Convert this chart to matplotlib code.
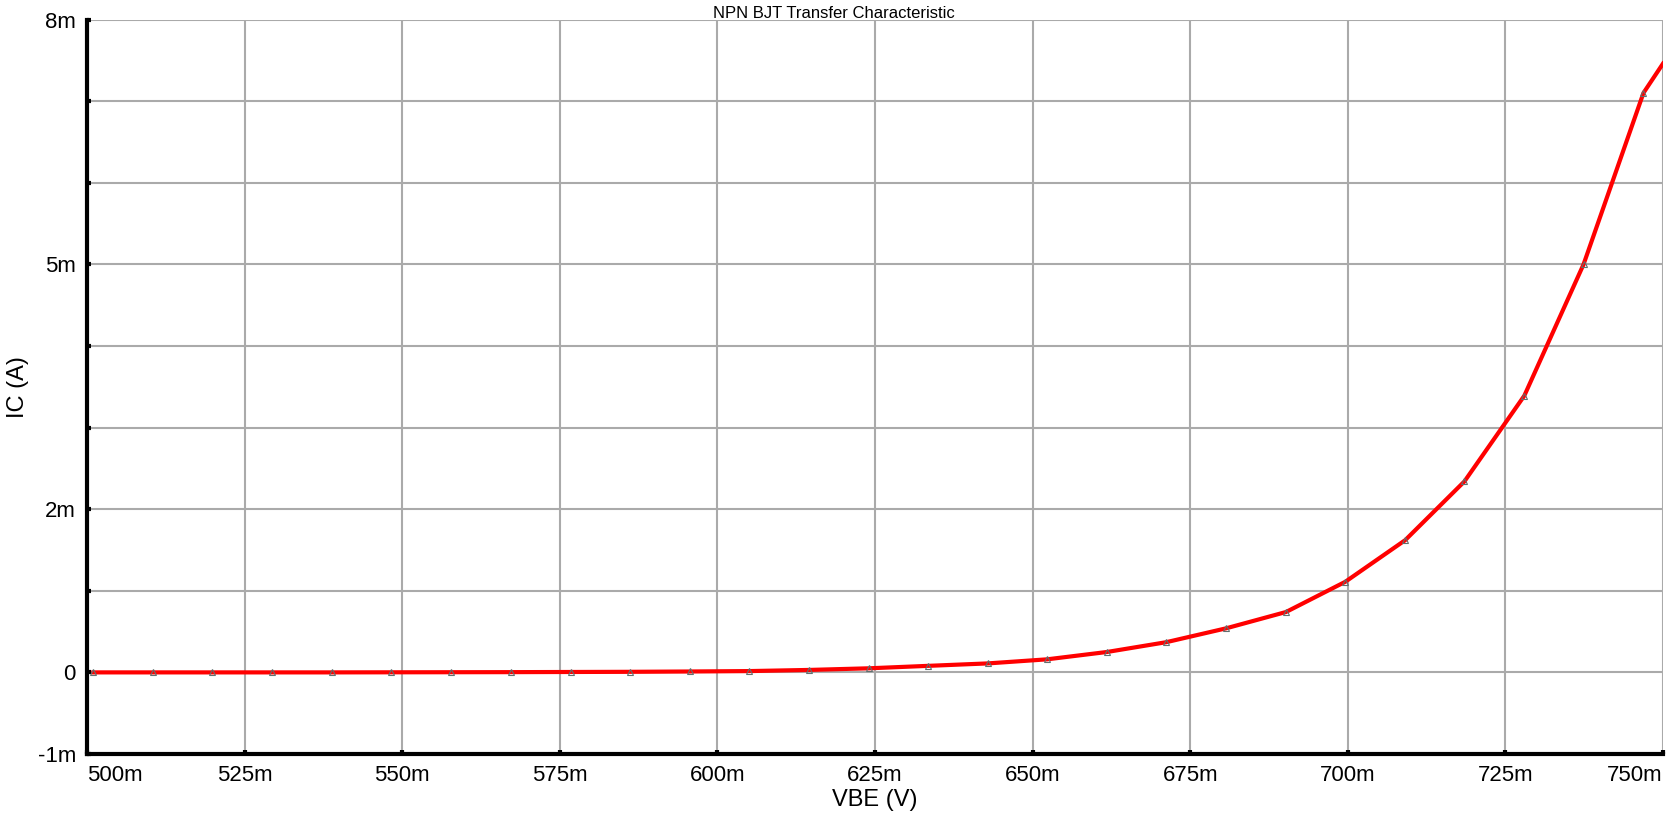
import matplotlib
matplotlib.use("Agg")
import matplotlib.pyplot as plt
import numpy as np

plt.rcParams['font.family'] = ['Liberation Sans', 'DejaVu Sans']

vbe_mv = [501, 510.5, 519.9, 529.4, 538.8, 548.3, 557.8, 567.2, 576.7, 586.1, 595.6, 605, 614.5,
          624, 633.4, 642.9, 652.3, 661.8, 671.2, 680.7, 690.2, 699.6, 709.1, 718.5, 728, 737.4, 746.9, 750]
ic_ma = [0.0, 0.0, 0.0, 0.0, 0.0, 0.001, 0.002, 0.003, 0.005, 0.007, 0.011, 0.016, 0.03,
         0.05, 0.08, 0.11, 0.16, 0.25, 0.37, 0.54, 0.74, 1.11, 1.62, 2.34, 3.39, 5.0, 7.1, 7.46]
xticks = [500, 525, 550, 575, 600, 625, 650, 675, 700, 725, 750]
yticks_lab = [-1, 0, 2, 5, 8]

fig = plt.figure(figsize=(16.68, 8.32), dpi=100)
ax = fig.add_axes([87/1668, 1-754/832, (1663-87)/1668, (754-19.5)/832])
x = np.array(vbe_mv) / 1000
y = np.array(ic_ma) / 1000
ax.plot(x, y, color='#ff0000', lw=3, zorder=3)
ax.plot(x[:-1], y[:-1], ls='none', marker='^', ms=5, mfc='none', mec='#607070', mew=0.8, zorder=4)
ax.set_xlim(0.5, 0.75)
ax.set_ylim(-0.001, 0.008)
ax.set_xticks([v/1000 for v in xticks])
ax.set_xticklabels([f"{v}m" for v in xticks])
ax.set_yticks([v/1000 for v in range(-1, 9)])
ax.set_yticklabels([(("0" if v == 0 else f"{v}m") if v in yticks_lab else "") for v in range(-1, 9)])
ax.grid(True, color='#aaaaaa', lw=1.5)
for s in ['top', 'right']:
    ax.spines[s].set_visible(False)
for s in ['left', 'bottom']:
    ax.spines[s].set_linewidth(3)
ax.tick_params(axis='both', labelsize=16, length=3, width=3, direction='in', pad=8)
labs = ax.get_xticklabels()
labs[0].set_ha('left'); labs[-1].set_ha('right')
ax.set_xlabel("VBE (V)", fontsize=17, labelpad=2)
ax.set_ylabel("IC (A)", fontsize=17, labelpad=6)
fig.text(0.5, 1-14/832, "NPN BJT Transfer Characteristic", ha='center', va='center', fontsize=12)
fig.savefig("out.png", dpi=100)
